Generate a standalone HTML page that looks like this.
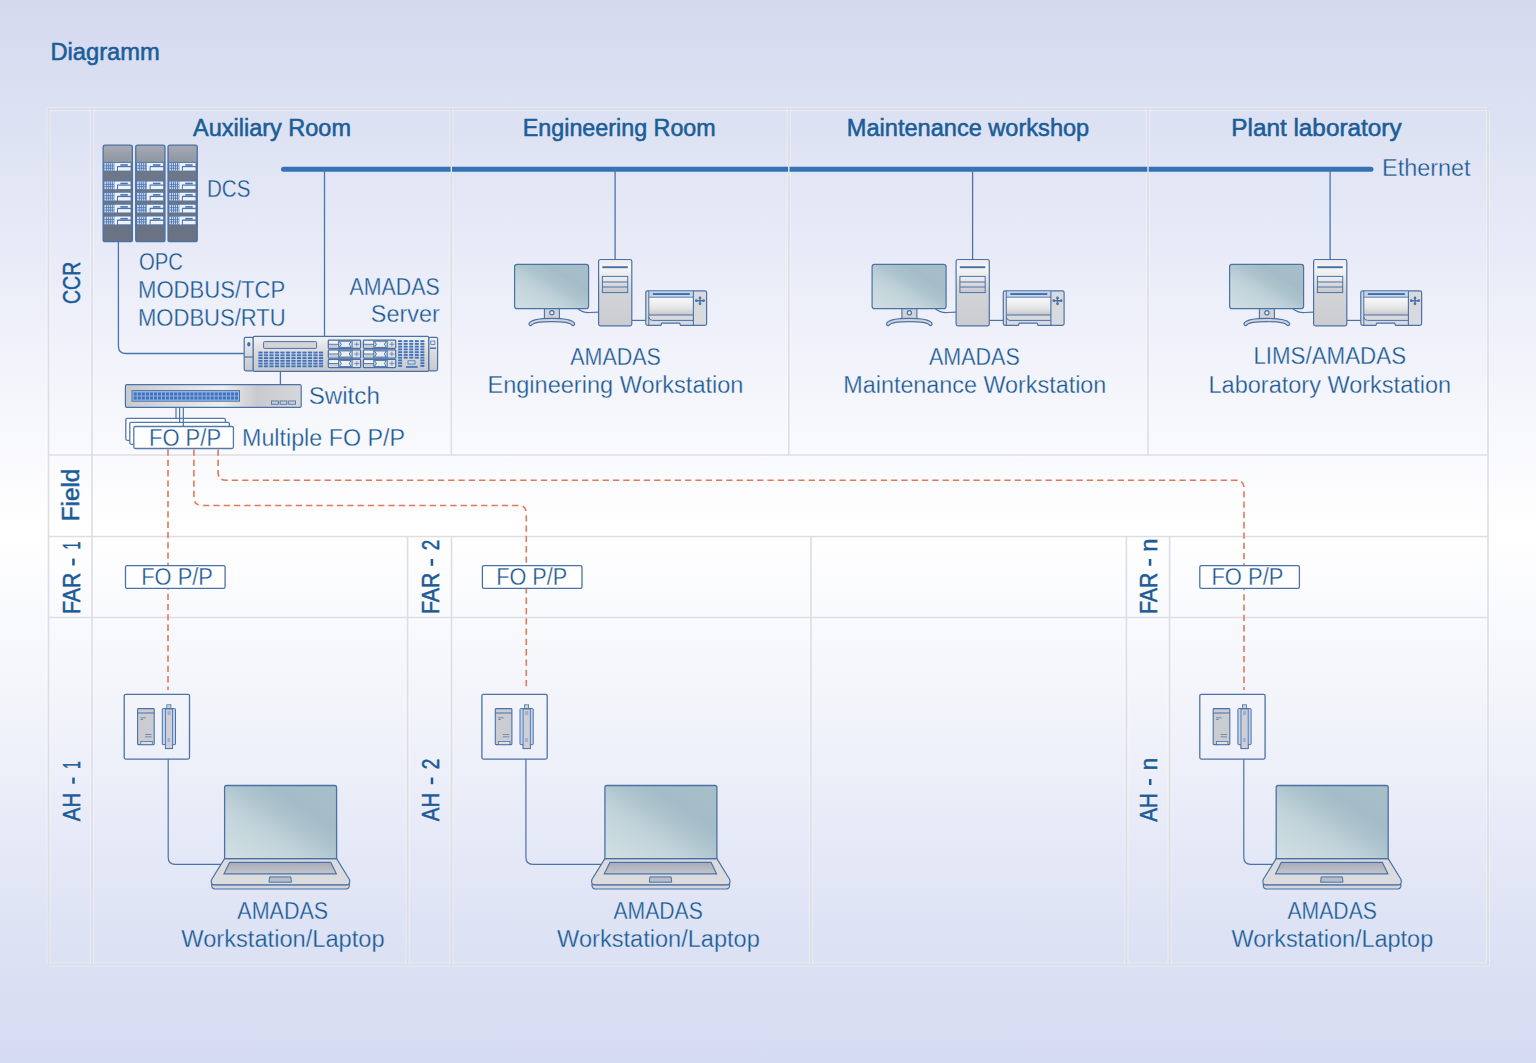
<!DOCTYPE html>
<html><head><meta charset="utf-8"><style>
html,body{margin:0;padding:0;width:1536px;height:1063px;overflow:hidden;}
body{background:linear-gradient(to bottom,#d4d9ef 0%,#dde2f3 12%,#f3f4fb 35%,#ffffff 50%,#f1f3fa 68%,#dde2f4 88%,#d5dbf1 100%);}
svg{position:absolute;left:0;top:0;}
text{font-family:"Liberation Sans",sans-serif;}
</style></head><body>
<svg width="1536" height="1063" viewBox="0 0 1536 1063">
<defs>
<linearGradient id="rackg" x1="0" y1="0" x2="0" y2="1"><stop offset="0" stop-color="#a6aab3"/><stop offset="0.17" stop-color="#8f96a2"/><stop offset="0.2" stop-color="#6e7888"/><stop offset="1" stop-color="#687283"/></linearGradient>
<linearGradient id="screeng" x1="0" y1="1" x2="1" y2="0"><stop offset="0" stop-color="#d0dfe4"/><stop offset="0.35" stop-color="#c2d4da"/><stop offset="0.55" stop-color="#adc4cd"/><stop offset="0.7" stop-color="#a3bcc7"/><stop offset="1" stop-color="#a6bfc9"/></linearGradient>
<linearGradient id="metalg" x1="0" y1="0" x2="0" y2="1"><stop offset="0" stop-color="#f2f2f3"/><stop offset="0.5" stop-color="#d9d9dc"/><stop offset="1" stop-color="#c7c8cc"/></linearGradient>
<linearGradient id="metalh" x1="0" y1="0" x2="1" y2="0"><stop offset="0" stop-color="#c9cacf"/><stop offset="0.55" stop-color="#eeeeef"/><stop offset="0.75" stop-color="#c9cacf"/><stop offset="1" stop-color="#d7d8db"/></linearGradient>
<linearGradient id="kbg" x1="0" y1="0" x2="0" y2="1"><stop offset="0" stop-color="#a7abb6"/><stop offset="1" stop-color="#c4c6cc"/></linearGradient>
</defs>
<g stroke="#ffffff" stroke-opacity="0.35" stroke-width="1.2" fill="none">
<rect x="50.0" y="110.5" width="1439.5" height="855.5" />
<line x1="48.5" y1="456.5" x2="1488" y2="456.5" />
<line x1="48.5" y1="538.0" x2="1488" y2="538.0" />
<line x1="48.5" y1="619.0" x2="1488" y2="619.0" />
<line x1="93.5" y1="109" x2="93.5" y2="455" />
<line x1="452.8" y1="109" x2="452.8" y2="455" />
<line x1="790.3" y1="109" x2="790.3" y2="455" />
<line x1="1149.5" y1="109" x2="1149.5" y2="455" />
<line x1="93.5" y1="455" x2="93.5" y2="536.5" />
<line x1="93.5" y1="536.5" x2="93.5" y2="964.5" />
<line x1="409.1" y1="536.5" x2="409.1" y2="964.5" />
<line x1="453.0" y1="536.5" x2="453.0" y2="964.5" />
<line x1="812.5" y1="536.5" x2="812.5" y2="964.5" />
<line x1="1127.9" y1="536.5" x2="1127.9" y2="964.5" />
<line x1="1171.1" y1="536.5" x2="1171.1" y2="964.5" />
<rect x="47.0" y="107.5" width="1439.5" height="855.5" />
<line x1="48.5" y1="453.5" x2="1488" y2="453.5" />
<line x1="48.5" y1="535.0" x2="1488" y2="535.0" />
<line x1="48.5" y1="616.0" x2="1488" y2="616.0" />
<line x1="90.5" y1="109" x2="90.5" y2="455" />
<line x1="449.8" y1="109" x2="449.8" y2="455" />
<line x1="787.3" y1="109" x2="787.3" y2="455" />
<line x1="1146.5" y1="109" x2="1146.5" y2="455" />
<line x1="90.5" y1="455" x2="90.5" y2="536.5" />
<line x1="90.5" y1="536.5" x2="90.5" y2="964.5" />
<line x1="406.1" y1="536.5" x2="406.1" y2="964.5" />
<line x1="450.0" y1="536.5" x2="450.0" y2="964.5" />
<line x1="809.5" y1="536.5" x2="809.5" y2="964.5" />
<line x1="1124.9" y1="536.5" x2="1124.9" y2="964.5" />
<line x1="1168.1" y1="536.5" x2="1168.1" y2="964.5" />
</g>
<g id="grid" stroke="#dcdee4" stroke-width="1.6" fill="none">
<rect x="48.5" y="109" width="1439.5" height="855.5" />
<line x1="48.5" y1="455" x2="1488" y2="455" />
<line x1="48.5" y1="536.5" x2="1488" y2="536.5" />
<line x1="48.5" y1="617.5" x2="1488" y2="617.5" />
<line x1="92" y1="109" x2="92" y2="455" />
<line x1="451.3" y1="109" x2="451.3" y2="455" />
<line x1="788.8" y1="109" x2="788.8" y2="455" />
<line x1="1148" y1="109" x2="1148" y2="455" />
<line x1="92" y1="455" x2="92" y2="536.5" />
<line x1="92" y1="536.5" x2="92" y2="964.5" />
<line x1="407.6" y1="536.5" x2="407.6" y2="964.5" />
<line x1="451.5" y1="536.5" x2="451.5" y2="964.5" />
<line x1="811" y1="536.5" x2="811" y2="964.5" />
<line x1="1126.4" y1="536.5" x2="1126.4" y2="964.5" />
<line x1="1169.6" y1="536.5" x2="1169.6" y2="964.5" />
</g>
<g fill="none" stroke="#3572b3" stroke-linecap="round">
<line x1="283.5" y1="169.2" x2="1371" y2="169.2" stroke-width="5" />
</g>
<g stroke="#e6e9f5" stroke-width="1.4">
<line x1="451.3" y1="166" x2="451.3" y2="172.5" />
<line x1="788.8" y1="166" x2="788.8" y2="172.5" />
<line x1="1148" y1="166" x2="1148" y2="172.5" />
</g>
<g fill="none" stroke="#4a74ab" stroke-width="1.3">
<line x1="324.5" y1="169" x2="324.5" y2="336.5" />
<line x1="615.1" y1="169" x2="615.1" y2="259.5" />
<line x1="972.6" y1="169" x2="972.6" y2="259.5" />
<line x1="1330.1" y1="169" x2="1330.1" y2="259.5" />
<path d="M118.4,242 V346 Q118.4,353.5 126,353.5 H244" />
<line x1="280.4" y1="371.5" x2="280.4" y2="384.5" />
</g>
<rect x="103.15" y="145.1" width="29.2" height="96.6" rx="2" fill="url(#rackg)" stroke="#4a70a6" stroke-width="1.3"/>
<rect x="103.80" y="162.30" width="27.6" height="9" fill="#4d74ad" />
<rect x="104.40" y="163.00" width="9.6" height="7.6" fill="#c5d7ef" />
<rect x="106.30" y="163.00" width="0.8" height="7.6" fill="#4d74ad"/>
<rect x="108.30" y="163.00" width="0.8" height="7.6" fill="#4d74ad"/>
<rect x="110.30" y="163.00" width="0.8" height="7.6" fill="#4d74ad"/>
<rect x="112.30" y="163.00" width="0.8" height="7.6" fill="#4d74ad"/>
<rect x="104.40" y="165.40" width="9.6" height="0.8" fill="#4d74ad"/>
<rect x="104.40" y="167.80" width="9.6" height="0.8" fill="#4d74ad"/>
<path d="M114.40,162.90 H130.60 V165.90 H117.00 V170.70 H114.40 Z" fill="#eef3fb"/>
<rect x="120.30" y="164.20" width="7.5" height="1.6" fill="#4d74ad"/>
<rect x="118.00" y="167.20" width="12.6" height="3.4" fill="#eef3fb"/>
<rect x="103.80" y="180.80" width="27.6" height="9" fill="#4d74ad" />
<rect x="104.40" y="181.50" width="9.6" height="7.6" fill="#c5d7ef" />
<rect x="106.30" y="181.50" width="0.8" height="7.6" fill="#4d74ad"/>
<rect x="108.30" y="181.50" width="0.8" height="7.6" fill="#4d74ad"/>
<rect x="110.30" y="181.50" width="0.8" height="7.6" fill="#4d74ad"/>
<rect x="112.30" y="181.50" width="0.8" height="7.6" fill="#4d74ad"/>
<rect x="104.40" y="183.90" width="9.6" height="0.8" fill="#4d74ad"/>
<rect x="104.40" y="186.30" width="9.6" height="0.8" fill="#4d74ad"/>
<path d="M114.40,181.40 H130.60 V184.40 H117.00 V189.20 H114.40 Z" fill="#eef3fb"/>
<rect x="120.30" y="182.70" width="7.5" height="1.6" fill="#4d74ad"/>
<rect x="118.00" y="185.70" width="12.6" height="3.4" fill="#eef3fb"/>
<rect x="103.80" y="192.20" width="27.6" height="9" fill="#4d74ad" />
<rect x="104.40" y="192.90" width="9.6" height="7.6" fill="#c5d7ef" />
<rect x="106.30" y="192.90" width="0.8" height="7.6" fill="#4d74ad"/>
<rect x="108.30" y="192.90" width="0.8" height="7.6" fill="#4d74ad"/>
<rect x="110.30" y="192.90" width="0.8" height="7.6" fill="#4d74ad"/>
<rect x="112.30" y="192.90" width="0.8" height="7.6" fill="#4d74ad"/>
<rect x="104.40" y="195.30" width="9.6" height="0.8" fill="#4d74ad"/>
<rect x="104.40" y="197.70" width="9.6" height="0.8" fill="#4d74ad"/>
<path d="M114.40,192.80 H130.60 V195.80 H117.00 V200.60 H114.40 Z" fill="#eef3fb"/>
<rect x="120.30" y="194.10" width="7.5" height="1.6" fill="#4d74ad"/>
<rect x="118.00" y="197.10" width="12.6" height="3.4" fill="#eef3fb"/>
<rect x="103.80" y="204.20" width="27.6" height="9" fill="#4d74ad" />
<rect x="104.40" y="204.90" width="9.6" height="7.6" fill="#c5d7ef" />
<rect x="106.30" y="204.90" width="0.8" height="7.6" fill="#4d74ad"/>
<rect x="108.30" y="204.90" width="0.8" height="7.6" fill="#4d74ad"/>
<rect x="110.30" y="204.90" width="0.8" height="7.6" fill="#4d74ad"/>
<rect x="112.30" y="204.90" width="0.8" height="7.6" fill="#4d74ad"/>
<rect x="104.40" y="207.30" width="9.6" height="0.8" fill="#4d74ad"/>
<rect x="104.40" y="209.70" width="9.6" height="0.8" fill="#4d74ad"/>
<path d="M114.40,204.80 H130.60 V207.80 H117.00 V212.60 H114.40 Z" fill="#eef3fb"/>
<rect x="120.30" y="206.10" width="7.5" height="1.6" fill="#4d74ad"/>
<rect x="118.00" y="209.10" width="12.6" height="3.4" fill="#eef3fb"/>
<rect x="103.80" y="216.00" width="27.6" height="9" fill="#4d74ad" />
<rect x="104.40" y="216.70" width="9.6" height="7.6" fill="#c5d7ef" />
<rect x="106.30" y="216.70" width="0.8" height="7.6" fill="#4d74ad"/>
<rect x="108.30" y="216.70" width="0.8" height="7.6" fill="#4d74ad"/>
<rect x="110.30" y="216.70" width="0.8" height="7.6" fill="#4d74ad"/>
<rect x="112.30" y="216.70" width="0.8" height="7.6" fill="#4d74ad"/>
<rect x="104.40" y="219.10" width="9.6" height="0.8" fill="#4d74ad"/>
<rect x="104.40" y="221.50" width="9.6" height="0.8" fill="#4d74ad"/>
<path d="M114.40,216.60 H130.60 V219.60 H117.00 V224.40 H114.40 Z" fill="#eef3fb"/>
<rect x="120.30" y="217.90" width="7.5" height="1.6" fill="#4d74ad"/>
<rect x="118.00" y="220.90" width="12.6" height="3.4" fill="#eef3fb"/>
<rect x="135.75" y="145.1" width="29.2" height="96.6" rx="2" fill="url(#rackg)" stroke="#4a70a6" stroke-width="1.3"/>
<rect x="136.40" y="162.30" width="27.6" height="9" fill="#4d74ad" />
<rect x="137.00" y="163.00" width="9.6" height="7.6" fill="#c5d7ef" />
<rect x="138.90" y="163.00" width="0.8" height="7.6" fill="#4d74ad"/>
<rect x="140.90" y="163.00" width="0.8" height="7.6" fill="#4d74ad"/>
<rect x="142.90" y="163.00" width="0.8" height="7.6" fill="#4d74ad"/>
<rect x="144.90" y="163.00" width="0.8" height="7.6" fill="#4d74ad"/>
<rect x="137.00" y="165.40" width="9.6" height="0.8" fill="#4d74ad"/>
<rect x="137.00" y="167.80" width="9.6" height="0.8" fill="#4d74ad"/>
<path d="M147.00,162.90 H163.20 V165.90 H149.60 V170.70 H147.00 Z" fill="#eef3fb"/>
<rect x="152.90" y="164.20" width="7.5" height="1.6" fill="#4d74ad"/>
<rect x="150.60" y="167.20" width="12.6" height="3.4" fill="#eef3fb"/>
<rect x="136.40" y="180.80" width="27.6" height="9" fill="#4d74ad" />
<rect x="137.00" y="181.50" width="9.6" height="7.6" fill="#c5d7ef" />
<rect x="138.90" y="181.50" width="0.8" height="7.6" fill="#4d74ad"/>
<rect x="140.90" y="181.50" width="0.8" height="7.6" fill="#4d74ad"/>
<rect x="142.90" y="181.50" width="0.8" height="7.6" fill="#4d74ad"/>
<rect x="144.90" y="181.50" width="0.8" height="7.6" fill="#4d74ad"/>
<rect x="137.00" y="183.90" width="9.6" height="0.8" fill="#4d74ad"/>
<rect x="137.00" y="186.30" width="9.6" height="0.8" fill="#4d74ad"/>
<path d="M147.00,181.40 H163.20 V184.40 H149.60 V189.20 H147.00 Z" fill="#eef3fb"/>
<rect x="152.90" y="182.70" width="7.5" height="1.6" fill="#4d74ad"/>
<rect x="150.60" y="185.70" width="12.6" height="3.4" fill="#eef3fb"/>
<rect x="136.40" y="192.20" width="27.6" height="9" fill="#4d74ad" />
<rect x="137.00" y="192.90" width="9.6" height="7.6" fill="#c5d7ef" />
<rect x="138.90" y="192.90" width="0.8" height="7.6" fill="#4d74ad"/>
<rect x="140.90" y="192.90" width="0.8" height="7.6" fill="#4d74ad"/>
<rect x="142.90" y="192.90" width="0.8" height="7.6" fill="#4d74ad"/>
<rect x="144.90" y="192.90" width="0.8" height="7.6" fill="#4d74ad"/>
<rect x="137.00" y="195.30" width="9.6" height="0.8" fill="#4d74ad"/>
<rect x="137.00" y="197.70" width="9.6" height="0.8" fill="#4d74ad"/>
<path d="M147.00,192.80 H163.20 V195.80 H149.60 V200.60 H147.00 Z" fill="#eef3fb"/>
<rect x="152.90" y="194.10" width="7.5" height="1.6" fill="#4d74ad"/>
<rect x="150.60" y="197.10" width="12.6" height="3.4" fill="#eef3fb"/>
<rect x="136.40" y="204.20" width="27.6" height="9" fill="#4d74ad" />
<rect x="137.00" y="204.90" width="9.6" height="7.6" fill="#c5d7ef" />
<rect x="138.90" y="204.90" width="0.8" height="7.6" fill="#4d74ad"/>
<rect x="140.90" y="204.90" width="0.8" height="7.6" fill="#4d74ad"/>
<rect x="142.90" y="204.90" width="0.8" height="7.6" fill="#4d74ad"/>
<rect x="144.90" y="204.90" width="0.8" height="7.6" fill="#4d74ad"/>
<rect x="137.00" y="207.30" width="9.6" height="0.8" fill="#4d74ad"/>
<rect x="137.00" y="209.70" width="9.6" height="0.8" fill="#4d74ad"/>
<path d="M147.00,204.80 H163.20 V207.80 H149.60 V212.60 H147.00 Z" fill="#eef3fb"/>
<rect x="152.90" y="206.10" width="7.5" height="1.6" fill="#4d74ad"/>
<rect x="150.60" y="209.10" width="12.6" height="3.4" fill="#eef3fb"/>
<rect x="136.40" y="216.00" width="27.6" height="9" fill="#4d74ad" />
<rect x="137.00" y="216.70" width="9.6" height="7.6" fill="#c5d7ef" />
<rect x="138.90" y="216.70" width="0.8" height="7.6" fill="#4d74ad"/>
<rect x="140.90" y="216.70" width="0.8" height="7.6" fill="#4d74ad"/>
<rect x="142.90" y="216.70" width="0.8" height="7.6" fill="#4d74ad"/>
<rect x="144.90" y="216.70" width="0.8" height="7.6" fill="#4d74ad"/>
<rect x="137.00" y="219.10" width="9.6" height="0.8" fill="#4d74ad"/>
<rect x="137.00" y="221.50" width="9.6" height="0.8" fill="#4d74ad"/>
<path d="M147.00,216.60 H163.20 V219.60 H149.60 V224.40 H147.00 Z" fill="#eef3fb"/>
<rect x="152.90" y="217.90" width="7.5" height="1.6" fill="#4d74ad"/>
<rect x="150.60" y="220.90" width="12.6" height="3.4" fill="#eef3fb"/>
<rect x="168.05" y="145.1" width="29.2" height="96.6" rx="2" fill="url(#rackg)" stroke="#4a70a6" stroke-width="1.3"/>
<rect x="168.70" y="162.30" width="27.6" height="9" fill="#4d74ad" />
<rect x="169.30" y="163.00" width="9.6" height="7.6" fill="#c5d7ef" />
<rect x="171.20" y="163.00" width="0.8" height="7.6" fill="#4d74ad"/>
<rect x="173.20" y="163.00" width="0.8" height="7.6" fill="#4d74ad"/>
<rect x="175.20" y="163.00" width="0.8" height="7.6" fill="#4d74ad"/>
<rect x="177.20" y="163.00" width="0.8" height="7.6" fill="#4d74ad"/>
<rect x="169.30" y="165.40" width="9.6" height="0.8" fill="#4d74ad"/>
<rect x="169.30" y="167.80" width="9.6" height="0.8" fill="#4d74ad"/>
<path d="M179.30,162.90 H195.50 V165.90 H181.90 V170.70 H179.30 Z" fill="#eef3fb"/>
<rect x="185.20" y="164.20" width="7.5" height="1.6" fill="#4d74ad"/>
<rect x="182.90" y="167.20" width="12.6" height="3.4" fill="#eef3fb"/>
<rect x="168.70" y="180.80" width="27.6" height="9" fill="#4d74ad" />
<rect x="169.30" y="181.50" width="9.6" height="7.6" fill="#c5d7ef" />
<rect x="171.20" y="181.50" width="0.8" height="7.6" fill="#4d74ad"/>
<rect x="173.20" y="181.50" width="0.8" height="7.6" fill="#4d74ad"/>
<rect x="175.20" y="181.50" width="0.8" height="7.6" fill="#4d74ad"/>
<rect x="177.20" y="181.50" width="0.8" height="7.6" fill="#4d74ad"/>
<rect x="169.30" y="183.90" width="9.6" height="0.8" fill="#4d74ad"/>
<rect x="169.30" y="186.30" width="9.6" height="0.8" fill="#4d74ad"/>
<path d="M179.30,181.40 H195.50 V184.40 H181.90 V189.20 H179.30 Z" fill="#eef3fb"/>
<rect x="185.20" y="182.70" width="7.5" height="1.6" fill="#4d74ad"/>
<rect x="182.90" y="185.70" width="12.6" height="3.4" fill="#eef3fb"/>
<rect x="168.70" y="192.20" width="27.6" height="9" fill="#4d74ad" />
<rect x="169.30" y="192.90" width="9.6" height="7.6" fill="#c5d7ef" />
<rect x="171.20" y="192.90" width="0.8" height="7.6" fill="#4d74ad"/>
<rect x="173.20" y="192.90" width="0.8" height="7.6" fill="#4d74ad"/>
<rect x="175.20" y="192.90" width="0.8" height="7.6" fill="#4d74ad"/>
<rect x="177.20" y="192.90" width="0.8" height="7.6" fill="#4d74ad"/>
<rect x="169.30" y="195.30" width="9.6" height="0.8" fill="#4d74ad"/>
<rect x="169.30" y="197.70" width="9.6" height="0.8" fill="#4d74ad"/>
<path d="M179.30,192.80 H195.50 V195.80 H181.90 V200.60 H179.30 Z" fill="#eef3fb"/>
<rect x="185.20" y="194.10" width="7.5" height="1.6" fill="#4d74ad"/>
<rect x="182.90" y="197.10" width="12.6" height="3.4" fill="#eef3fb"/>
<rect x="168.70" y="204.20" width="27.6" height="9" fill="#4d74ad" />
<rect x="169.30" y="204.90" width="9.6" height="7.6" fill="#c5d7ef" />
<rect x="171.20" y="204.90" width="0.8" height="7.6" fill="#4d74ad"/>
<rect x="173.20" y="204.90" width="0.8" height="7.6" fill="#4d74ad"/>
<rect x="175.20" y="204.90" width="0.8" height="7.6" fill="#4d74ad"/>
<rect x="177.20" y="204.90" width="0.8" height="7.6" fill="#4d74ad"/>
<rect x="169.30" y="207.30" width="9.6" height="0.8" fill="#4d74ad"/>
<rect x="169.30" y="209.70" width="9.6" height="0.8" fill="#4d74ad"/>
<path d="M179.30,204.80 H195.50 V207.80 H181.90 V212.60 H179.30 Z" fill="#eef3fb"/>
<rect x="185.20" y="206.10" width="7.5" height="1.6" fill="#4d74ad"/>
<rect x="182.90" y="209.10" width="12.6" height="3.4" fill="#eef3fb"/>
<rect x="168.70" y="216.00" width="27.6" height="9" fill="#4d74ad" />
<rect x="169.30" y="216.70" width="9.6" height="7.6" fill="#c5d7ef" />
<rect x="171.20" y="216.70" width="0.8" height="7.6" fill="#4d74ad"/>
<rect x="173.20" y="216.70" width="0.8" height="7.6" fill="#4d74ad"/>
<rect x="175.20" y="216.70" width="0.8" height="7.6" fill="#4d74ad"/>
<rect x="177.20" y="216.70" width="0.8" height="7.6" fill="#4d74ad"/>
<rect x="169.30" y="219.10" width="9.6" height="0.8" fill="#4d74ad"/>
<rect x="169.30" y="221.50" width="9.6" height="0.8" fill="#4d74ad"/>
<path d="M179.30,216.60 H195.50 V219.60 H181.90 V224.40 H179.30 Z" fill="#eef3fb"/>
<rect x="185.20" y="217.90" width="7.5" height="1.6" fill="#4d74ad"/>
<rect x="182.90" y="220.90" width="12.6" height="3.4" fill="#eef3fb"/>
<g stroke="#4a72a8" stroke-width="1.2">
<rect x="244.2" y="337.4" width="9.2" height="33.4" rx="1.5" fill="url(#metalg)"/>
<line x1="244.2" y1="357" x2="253.4" y2="357" />
<rect x="428.6" y="337.4" width="9" height="33.4" rx="1.5" fill="url(#metalg)"/>
<rect x="253.2" y="336.4" width="175.5" height="35" rx="1" fill="url(#metalg)"/>
</g>
<ellipse cx="248.8" cy="344.3" rx="1.6" ry="2.2" fill="#3f6fb0"/>
<rect x="430.8" y="341" width="4" height="3.5" fill="none" stroke="#4a72a8" stroke-width="0.8"/>
<rect x="430" y="347.5" width="6" height="1.5" fill="#4a72a8"/>
<rect x="263.6" y="341.6" width="53" height="6.8" rx="0.8" fill="#d3d4d8" stroke="#4a72a8" stroke-width="1"/>
<rect x="258.4" y="351.60" width="4.2" height="1.9" fill="#3f73bd"/>
<rect x="258.4" y="354.35" width="4.2" height="1.9" fill="#3f73bd"/>
<rect x="258.4" y="357.10" width="4.2" height="1.9" fill="#3f73bd"/>
<rect x="258.4" y="359.85" width="4.2" height="1.9" fill="#3f73bd"/>
<rect x="258.4" y="362.60" width="4.2" height="1.9" fill="#3f73bd"/>
<rect x="258.4" y="365.35" width="4.2" height="1.9" fill="#3f73bd"/>
<rect x="263.9" y="351.60" width="4.2" height="1.9" fill="#3f73bd"/>
<rect x="263.9" y="354.35" width="4.2" height="1.9" fill="#3f73bd"/>
<rect x="263.9" y="357.10" width="4.2" height="1.9" fill="#3f73bd"/>
<rect x="263.9" y="359.85" width="4.2" height="1.9" fill="#3f73bd"/>
<rect x="263.9" y="362.60" width="4.2" height="1.9" fill="#3f73bd"/>
<rect x="263.9" y="365.35" width="4.2" height="1.9" fill="#3f73bd"/>
<rect x="269.4" y="351.60" width="4.2" height="1.9" fill="#3f73bd"/>
<rect x="269.4" y="354.35" width="4.2" height="1.9" fill="#3f73bd"/>
<rect x="269.4" y="357.10" width="4.2" height="1.9" fill="#3f73bd"/>
<rect x="269.4" y="359.85" width="4.2" height="1.9" fill="#3f73bd"/>
<rect x="269.4" y="362.60" width="4.2" height="1.9" fill="#3f73bd"/>
<rect x="269.4" y="365.35" width="4.2" height="1.9" fill="#3f73bd"/>
<rect x="274.9" y="351.60" width="4.2" height="1.9" fill="#3f73bd"/>
<rect x="274.9" y="354.35" width="4.2" height="1.9" fill="#3f73bd"/>
<rect x="274.9" y="357.10" width="4.2" height="1.9" fill="#3f73bd"/>
<rect x="274.9" y="359.85" width="4.2" height="1.9" fill="#3f73bd"/>
<rect x="274.9" y="362.60" width="4.2" height="1.9" fill="#3f73bd"/>
<rect x="274.9" y="365.35" width="4.2" height="1.9" fill="#3f73bd"/>
<rect x="280.4" y="351.60" width="4.2" height="1.9" fill="#3f73bd"/>
<rect x="280.4" y="354.35" width="4.2" height="1.9" fill="#3f73bd"/>
<rect x="280.4" y="357.10" width="4.2" height="1.9" fill="#3f73bd"/>
<rect x="280.4" y="359.85" width="4.2" height="1.9" fill="#3f73bd"/>
<rect x="280.4" y="362.60" width="4.2" height="1.9" fill="#3f73bd"/>
<rect x="280.4" y="365.35" width="4.2" height="1.9" fill="#3f73bd"/>
<rect x="285.9" y="351.60" width="4.2" height="1.9" fill="#3f73bd"/>
<rect x="285.9" y="354.35" width="4.2" height="1.9" fill="#3f73bd"/>
<rect x="285.9" y="357.10" width="4.2" height="1.9" fill="#3f73bd"/>
<rect x="285.9" y="359.85" width="4.2" height="1.9" fill="#3f73bd"/>
<rect x="285.9" y="362.60" width="4.2" height="1.9" fill="#3f73bd"/>
<rect x="285.9" y="365.35" width="4.2" height="1.9" fill="#3f73bd"/>
<rect x="291.4" y="351.60" width="4.2" height="1.9" fill="#3f73bd"/>
<rect x="291.4" y="354.35" width="4.2" height="1.9" fill="#3f73bd"/>
<rect x="291.4" y="357.10" width="4.2" height="1.9" fill="#3f73bd"/>
<rect x="291.4" y="359.85" width="4.2" height="1.9" fill="#3f73bd"/>
<rect x="291.4" y="362.60" width="4.2" height="1.9" fill="#3f73bd"/>
<rect x="291.4" y="365.35" width="4.2" height="1.9" fill="#3f73bd"/>
<rect x="296.9" y="351.60" width="4.2" height="1.9" fill="#3f73bd"/>
<rect x="296.9" y="354.35" width="4.2" height="1.9" fill="#3f73bd"/>
<rect x="296.9" y="357.10" width="4.2" height="1.9" fill="#3f73bd"/>
<rect x="296.9" y="359.85" width="4.2" height="1.9" fill="#3f73bd"/>
<rect x="296.9" y="362.60" width="4.2" height="1.9" fill="#3f73bd"/>
<rect x="296.9" y="365.35" width="4.2" height="1.9" fill="#3f73bd"/>
<rect x="302.4" y="351.60" width="4.2" height="1.9" fill="#3f73bd"/>
<rect x="302.4" y="354.35" width="4.2" height="1.9" fill="#3f73bd"/>
<rect x="302.4" y="357.10" width="4.2" height="1.9" fill="#3f73bd"/>
<rect x="302.4" y="359.85" width="4.2" height="1.9" fill="#3f73bd"/>
<rect x="302.4" y="362.60" width="4.2" height="1.9" fill="#3f73bd"/>
<rect x="302.4" y="365.35" width="4.2" height="1.9" fill="#3f73bd"/>
<rect x="307.9" y="351.60" width="4.2" height="1.9" fill="#3f73bd"/>
<rect x="307.9" y="354.35" width="4.2" height="1.9" fill="#3f73bd"/>
<rect x="307.9" y="357.10" width="4.2" height="1.9" fill="#3f73bd"/>
<rect x="307.9" y="359.85" width="4.2" height="1.9" fill="#3f73bd"/>
<rect x="307.9" y="362.60" width="4.2" height="1.9" fill="#3f73bd"/>
<rect x="307.9" y="365.35" width="4.2" height="1.9" fill="#3f73bd"/>
<rect x="313.4" y="351.60" width="4.2" height="1.9" fill="#3f73bd"/>
<rect x="313.4" y="354.35" width="4.2" height="1.9" fill="#3f73bd"/>
<rect x="313.4" y="357.10" width="4.2" height="1.9" fill="#3f73bd"/>
<rect x="313.4" y="359.85" width="4.2" height="1.9" fill="#3f73bd"/>
<rect x="313.4" y="362.60" width="4.2" height="1.9" fill="#3f73bd"/>
<rect x="313.4" y="365.35" width="4.2" height="1.9" fill="#3f73bd"/>
<rect x="318.9" y="351.60" width="4.2" height="1.9" fill="#3f73bd"/>
<rect x="318.9" y="354.35" width="4.2" height="1.9" fill="#3f73bd"/>
<rect x="318.9" y="357.10" width="4.2" height="1.9" fill="#3f73bd"/>
<rect x="318.9" y="359.85" width="4.2" height="1.9" fill="#3f73bd"/>
<rect x="318.9" y="362.60" width="4.2" height="1.9" fill="#3f73bd"/>
<rect x="318.9" y="365.35" width="4.2" height="1.9" fill="#3f73bd"/>
<rect x="328.3" y="340.2" width="32.3" height="8.2" rx="0.8" fill="#dfe0e4" stroke="#4a72a8" stroke-width="1.25"/>
<rect x="329.5" y="341.4" width="8.4" height="2.4" fill="#f4f5f8"/>
<rect x="329.5" y="344.8" width="8.4" height="2.4" fill="#c9cbd1"/>
<line x1="328.3" y1="344.3" x2="338.7" y2="344.3" stroke="#4a72a8" stroke-width="0.9"/>
<line x1="338.7" y1="340.2" x2="338.7" y2="348.4" stroke="#4a72a8" stroke-width="1"/>
<path d="M339.3,341.2 L341.3,344.3 L339.3,347.4 H351.3 L349.3,344.3 L351.3,341.2 Z" fill="#eceef2" stroke="#4a72a8" stroke-width="1"/>
<line x1="352.1" y1="340.2" x2="352.1" y2="348.4" stroke="#4a72a8" stroke-width="1"/>
<path d="M354.3,344.3 h5 M356.8,342.0 v4.6" stroke="#4a72a8" stroke-width="0.7"/>
<rect x="328.3" y="349.9" width="32.3" height="8.2" rx="0.8" fill="#dfe0e4" stroke="#4a72a8" stroke-width="1.25"/>
<rect x="329.5" y="351.1" width="8.4" height="2.4" fill="#f4f5f8"/>
<rect x="329.5" y="354.5" width="8.4" height="2.4" fill="#c9cbd1"/>
<line x1="328.3" y1="354.0" x2="338.7" y2="354.0" stroke="#4a72a8" stroke-width="0.9"/>
<line x1="338.7" y1="349.9" x2="338.7" y2="358.1" stroke="#4a72a8" stroke-width="1"/>
<path d="M339.3,350.9 L341.3,354.0 L339.3,357.1 H351.3 L349.3,354.0 L351.3,350.9 Z" fill="#eceef2" stroke="#4a72a8" stroke-width="1"/>
<line x1="352.1" y1="349.9" x2="352.1" y2="358.1" stroke="#4a72a8" stroke-width="1"/>
<path d="M354.3,354.0 h5 M356.8,351.7 v4.6" stroke="#4a72a8" stroke-width="0.7"/>
<rect x="328.3" y="359.4" width="32.3" height="8.2" rx="0.8" fill="#dfe0e4" stroke="#4a72a8" stroke-width="1.25"/>
<rect x="329.5" y="360.6" width="8.4" height="2.4" fill="#f4f5f8"/>
<rect x="329.5" y="364.0" width="8.4" height="2.4" fill="#c9cbd1"/>
<line x1="328.3" y1="363.5" x2="338.7" y2="363.5" stroke="#4a72a8" stroke-width="0.9"/>
<line x1="338.7" y1="359.4" x2="338.7" y2="367.6" stroke="#4a72a8" stroke-width="1"/>
<path d="M339.3,360.4 L341.3,363.5 L339.3,366.6 H351.3 L349.3,363.5 L351.3,360.4 Z" fill="#eceef2" stroke="#4a72a8" stroke-width="1"/>
<line x1="352.1" y1="359.4" x2="352.1" y2="367.6" stroke="#4a72a8" stroke-width="1"/>
<path d="M354.3,363.5 h5 M356.8,361.2 v4.6" stroke="#4a72a8" stroke-width="0.7"/>
<rect x="363.4" y="340.2" width="32.3" height="8.2" rx="0.8" fill="#dfe0e4" stroke="#4a72a8" stroke-width="1.25"/>
<rect x="364.6" y="341.4" width="8.4" height="2.4" fill="#f4f5f8"/>
<rect x="364.6" y="344.8" width="8.4" height="2.4" fill="#c9cbd1"/>
<line x1="363.4" y1="344.3" x2="373.8" y2="344.3" stroke="#4a72a8" stroke-width="0.9"/>
<line x1="373.8" y1="340.2" x2="373.8" y2="348.4" stroke="#4a72a8" stroke-width="1"/>
<path d="M374.4,341.2 L376.4,344.3 L374.4,347.4 H386.4 L384.4,344.3 L386.4,341.2 Z" fill="#eceef2" stroke="#4a72a8" stroke-width="1"/>
<line x1="387.2" y1="340.2" x2="387.2" y2="348.4" stroke="#4a72a8" stroke-width="1"/>
<path d="M389.4,344.3 h5 M391.9,342.0 v4.6" stroke="#4a72a8" stroke-width="0.7"/>
<rect x="363.4" y="349.9" width="32.3" height="8.2" rx="0.8" fill="#dfe0e4" stroke="#4a72a8" stroke-width="1.25"/>
<rect x="364.6" y="351.1" width="8.4" height="2.4" fill="#f4f5f8"/>
<rect x="364.6" y="354.5" width="8.4" height="2.4" fill="#c9cbd1"/>
<line x1="363.4" y1="354.0" x2="373.8" y2="354.0" stroke="#4a72a8" stroke-width="0.9"/>
<line x1="373.8" y1="349.9" x2="373.8" y2="358.1" stroke="#4a72a8" stroke-width="1"/>
<path d="M374.4,350.9 L376.4,354.0 L374.4,357.1 H386.4 L384.4,354.0 L386.4,350.9 Z" fill="#eceef2" stroke="#4a72a8" stroke-width="1"/>
<line x1="387.2" y1="349.9" x2="387.2" y2="358.1" stroke="#4a72a8" stroke-width="1"/>
<path d="M389.4,354.0 h5 M391.9,351.7 v4.6" stroke="#4a72a8" stroke-width="0.7"/>
<rect x="363.4" y="359.4" width="32.3" height="8.2" rx="0.8" fill="#dfe0e4" stroke="#4a72a8" stroke-width="1.25"/>
<rect x="364.6" y="360.6" width="8.4" height="2.4" fill="#f4f5f8"/>
<rect x="364.6" y="364.0" width="8.4" height="2.4" fill="#c9cbd1"/>
<line x1="363.4" y1="363.5" x2="373.8" y2="363.5" stroke="#4a72a8" stroke-width="0.9"/>
<line x1="373.8" y1="359.4" x2="373.8" y2="367.6" stroke="#4a72a8" stroke-width="1"/>
<path d="M374.4,360.4 L376.4,363.5 L374.4,366.6 H386.4 L384.4,363.5 L386.4,360.4 Z" fill="#eceef2" stroke="#4a72a8" stroke-width="1"/>
<line x1="387.2" y1="359.4" x2="387.2" y2="367.6" stroke="#4a72a8" stroke-width="1"/>
<path d="M389.4,363.5 h5 M391.9,361.2 v4.6" stroke="#4a72a8" stroke-width="0.7"/>
<rect x="398.10" y="340.20" width="4" height="1.9" fill="#3f73bd"/>
<rect x="398.10" y="342.95" width="4" height="1.9" fill="#3f73bd"/>
<rect x="398.10" y="345.70" width="4" height="1.9" fill="#3f73bd"/>
<rect x="398.10" y="348.45" width="4" height="1.9" fill="#3f73bd"/>
<rect x="398.10" y="351.20" width="4" height="1.9" fill="#3f73bd"/>
<rect x="398.10" y="353.95" width="4" height="1.9" fill="#3f73bd"/>
<rect x="398.10" y="356.70" width="4" height="1.9" fill="#3f73bd"/>
<rect x="398.10" y="359.45" width="4" height="1.9" fill="#3f73bd"/>
<rect x="398.10" y="362.20" width="4" height="1.9" fill="#3f73bd"/>
<rect x="398.10" y="364.95" width="4" height="1.9" fill="#3f73bd"/>
<rect x="403.67" y="340.20" width="4" height="1.9" fill="#3f73bd"/>
<rect x="403.67" y="342.95" width="4" height="1.9" fill="#3f73bd"/>
<rect x="403.67" y="345.70" width="4" height="1.9" fill="#3f73bd"/>
<rect x="403.67" y="348.45" width="4" height="1.9" fill="#3f73bd"/>
<rect x="403.67" y="351.20" width="4" height="1.9" fill="#3f73bd"/>
<rect x="403.67" y="353.95" width="4" height="1.9" fill="#3f73bd"/>
<rect x="403.67" y="356.70" width="4" height="1.9" fill="#3f73bd"/>
<rect x="409.24" y="340.20" width="4" height="1.9" fill="#3f73bd"/>
<rect x="409.24" y="342.95" width="4" height="1.9" fill="#3f73bd"/>
<rect x="409.24" y="345.70" width="4" height="1.9" fill="#3f73bd"/>
<rect x="409.24" y="348.45" width="4" height="1.9" fill="#3f73bd"/>
<rect x="409.24" y="351.20" width="4" height="1.9" fill="#3f73bd"/>
<rect x="409.24" y="353.95" width="4" height="1.9" fill="#3f73bd"/>
<rect x="409.24" y="356.70" width="4" height="1.9" fill="#3f73bd"/>
<rect x="414.81" y="340.20" width="4" height="1.9" fill="#3f73bd"/>
<rect x="414.81" y="342.95" width="4" height="1.9" fill="#3f73bd"/>
<rect x="414.81" y="345.70" width="4" height="1.9" fill="#3f73bd"/>
<rect x="414.81" y="348.45" width="4" height="1.9" fill="#3f73bd"/>
<rect x="414.81" y="351.20" width="4" height="1.9" fill="#3f73bd"/>
<rect x="414.81" y="353.95" width="4" height="1.9" fill="#3f73bd"/>
<rect x="414.81" y="356.70" width="4" height="1.9" fill="#3f73bd"/>
<rect x="420.38" y="340.20" width="4" height="1.9" fill="#3f73bd"/>
<rect x="420.38" y="342.95" width="4" height="1.9" fill="#3f73bd"/>
<rect x="420.38" y="345.70" width="4" height="1.9" fill="#3f73bd"/>
<rect x="420.38" y="348.45" width="4" height="1.9" fill="#3f73bd"/>
<rect x="420.38" y="351.20" width="4" height="1.9" fill="#3f73bd"/>
<rect x="420.38" y="353.95" width="4" height="1.9" fill="#3f73bd"/>
<rect x="420.38" y="356.70" width="4" height="1.9" fill="#3f73bd"/>
<rect x="420.38" y="359.45" width="4" height="1.9" fill="#3f73bd"/>
<rect x="420.38" y="362.20" width="4" height="1.9" fill="#3f73bd"/>
<rect x="420.38" y="364.95" width="4" height="1.9" fill="#3f73bd"/>
<rect x="408" y="360.8" width="7" height="3.2" fill="#d9dbe0" stroke="#3f73bd" stroke-width="0.8"/>
<rect x="406" y="366.1" width="11.7" height="1.7" fill="#3f73bd"/>
<rect x="125.4" y="384.6" width="175.8" height="22.8" rx="1.6" fill="url(#metalh)" stroke="#4a72a8" stroke-width="1.2"/>
<rect x="132" y="390.6" width="107.5" height="10.6" fill="#9fbbe6" stroke="#4a72a8" stroke-width="1"/>
<rect x="133.60" y="392.4" width="3.2" height="3.2" fill="#3f73bd"/>
<rect x="133.60" y="396.4" width="3.2" height="3.2" fill="#3f73bd"/>
<rect x="137.65" y="392.4" width="3.2" height="3.2" fill="#3f73bd"/>
<rect x="137.65" y="396.4" width="3.2" height="3.2" fill="#3f73bd"/>
<rect x="141.70" y="392.4" width="3.2" height="3.2" fill="#3f73bd"/>
<rect x="141.70" y="396.4" width="3.2" height="3.2" fill="#3f73bd"/>
<rect x="145.75" y="392.4" width="3.2" height="3.2" fill="#3f73bd"/>
<rect x="145.75" y="396.4" width="3.2" height="3.2" fill="#3f73bd"/>
<rect x="149.80" y="392.4" width="3.2" height="3.2" fill="#3f73bd"/>
<rect x="149.80" y="396.4" width="3.2" height="3.2" fill="#3f73bd"/>
<rect x="153.85" y="392.4" width="3.2" height="3.2" fill="#3f73bd"/>
<rect x="153.85" y="396.4" width="3.2" height="3.2" fill="#3f73bd"/>
<rect x="157.90" y="392.4" width="3.2" height="3.2" fill="#3f73bd"/>
<rect x="157.90" y="396.4" width="3.2" height="3.2" fill="#3f73bd"/>
<rect x="161.95" y="392.4" width="3.2" height="3.2" fill="#3f73bd"/>
<rect x="161.95" y="396.4" width="3.2" height="3.2" fill="#3f73bd"/>
<rect x="166.00" y="392.4" width="3.2" height="3.2" fill="#3f73bd"/>
<rect x="166.00" y="396.4" width="3.2" height="3.2" fill="#3f73bd"/>
<rect x="170.05" y="392.4" width="3.2" height="3.2" fill="#3f73bd"/>
<rect x="170.05" y="396.4" width="3.2" height="3.2" fill="#3f73bd"/>
<rect x="174.10" y="392.4" width="3.2" height="3.2" fill="#3f73bd"/>
<rect x="174.10" y="396.4" width="3.2" height="3.2" fill="#3f73bd"/>
<rect x="178.15" y="392.4" width="3.2" height="3.2" fill="#3f73bd"/>
<rect x="178.15" y="396.4" width="3.2" height="3.2" fill="#3f73bd"/>
<rect x="182.20" y="392.4" width="3.2" height="3.2" fill="#3f73bd"/>
<rect x="182.20" y="396.4" width="3.2" height="3.2" fill="#3f73bd"/>
<rect x="186.25" y="392.4" width="3.2" height="3.2" fill="#3f73bd"/>
<rect x="186.25" y="396.4" width="3.2" height="3.2" fill="#3f73bd"/>
<rect x="190.30" y="392.4" width="3.2" height="3.2" fill="#3f73bd"/>
<rect x="190.30" y="396.4" width="3.2" height="3.2" fill="#3f73bd"/>
<rect x="194.35" y="392.4" width="3.2" height="3.2" fill="#3f73bd"/>
<rect x="194.35" y="396.4" width="3.2" height="3.2" fill="#3f73bd"/>
<rect x="198.40" y="392.4" width="3.2" height="3.2" fill="#3f73bd"/>
<rect x="198.40" y="396.4" width="3.2" height="3.2" fill="#3f73bd"/>
<rect x="202.45" y="392.4" width="3.2" height="3.2" fill="#3f73bd"/>
<rect x="202.45" y="396.4" width="3.2" height="3.2" fill="#3f73bd"/>
<rect x="206.50" y="392.4" width="3.2" height="3.2" fill="#3f73bd"/>
<rect x="206.50" y="396.4" width="3.2" height="3.2" fill="#3f73bd"/>
<rect x="210.55" y="392.4" width="3.2" height="3.2" fill="#3f73bd"/>
<rect x="210.55" y="396.4" width="3.2" height="3.2" fill="#3f73bd"/>
<rect x="214.60" y="392.4" width="3.2" height="3.2" fill="#3f73bd"/>
<rect x="214.60" y="396.4" width="3.2" height="3.2" fill="#3f73bd"/>
<rect x="218.65" y="392.4" width="3.2" height="3.2" fill="#3f73bd"/>
<rect x="218.65" y="396.4" width="3.2" height="3.2" fill="#3f73bd"/>
<rect x="222.70" y="392.4" width="3.2" height="3.2" fill="#3f73bd"/>
<rect x="222.70" y="396.4" width="3.2" height="3.2" fill="#3f73bd"/>
<rect x="226.75" y="392.4" width="3.2" height="3.2" fill="#3f73bd"/>
<rect x="226.75" y="396.4" width="3.2" height="3.2" fill="#3f73bd"/>
<rect x="230.80" y="392.4" width="3.2" height="3.2" fill="#3f73bd"/>
<rect x="230.80" y="396.4" width="3.2" height="3.2" fill="#3f73bd"/>
<rect x="234.85" y="392.4" width="3.2" height="3.2" fill="#3f73bd"/>
<rect x="234.85" y="396.4" width="3.2" height="3.2" fill="#3f73bd"/>
<rect x="271.5" y="401" width="6.8" height="3.2" fill="none" stroke="#4a72a8" stroke-width="0.9"/>
<rect x="280.1" y="401" width="6.8" height="3.2" fill="none" stroke="#4a72a8" stroke-width="0.9"/>
<rect x="288.7" y="401" width="6.8" height="3.2" fill="none" stroke="#4a72a8" stroke-width="0.9"/>
<g fill="#ffffff" stroke="#5679aa" stroke-width="1.3">
<rect x="125.8" y="418.3" width="99.6" height="22" rx="1.5"/>
<rect x="129.8" y="422.3" width="99.6" height="22" rx="1.5"/>
</g>
<g fill="none" stroke="#4a74ab" stroke-width="1.2">
<line x1="176" y1="407.5" x2="176" y2="418.5"/><line x1="179.6" y1="407.5" x2="179.6" y2="422.5"/><line x1="183.3" y1="407.5" x2="183.3" y2="426.5"/>
</g>
<rect x="133.8" y="426.5" width="99.6" height="22" rx="1.5" fill="#ffffff" stroke="#5679aa" stroke-width="1.3"/>
<defs>
<linearGradient id="towerg" x1="0" y1="0" x2="0" y2="1"><stop offset="0" stop-color="#e9e9ec"/><stop offset="0.12" stop-color="#f6f6f7"/><stop offset="0.5" stop-color="#d3d4d8"/><stop offset="1" stop-color="#cbccd0"/></linearGradient>
<linearGradient id="papg" x1="0" y1="0" x2="0" y2="1"><stop offset="0" stop-color="#fafafa"/><stop offset="0.6" stop-color="#e6e6e8"/><stop offset="1" stop-color="#c6c7cb"/></linearGradient>
</defs>
<g transform="translate(0,0)">
<path d="M577.5,308.5 Q583,313 590,312.5 L598.5,312.2" fill="none" stroke="#4a72a8" stroke-width="1.2"/>
<path d="M632,320.4 H646" fill="none" stroke="#4a72a8" stroke-width="1.2"/>
<rect x="544.4" y="308.5" width="15" height="10.8" fill="#d2d3d8" stroke="#4a72a8" stroke-width="1.1"/>
<circle cx="551.9" cy="312.8" r="2.1" fill="#e9eaee" stroke="#4a72a8" stroke-width="1.2"/>
<path d="M530.6,323.9 Q533.5,320 551.8,320 Q570.1,320 573,323.9" fill="none" stroke="#4a72a8" stroke-width="4.4" stroke-linecap="round"/>
<path d="M530.6,323.9 Q533.5,320 551.8,320 Q570.1,320 573,323.9" fill="none" stroke="#d4d5da" stroke-width="2.1" stroke-linecap="round"/>
<rect x="514.6" y="264.4" width="74" height="44.3" rx="2.5" fill="url(#screeng)" stroke="#4a72a8" stroke-width="1.2"/>
<rect x="598.6" y="259.5" width="33.2" height="66.3" rx="1.8" fill="url(#towerg)" stroke="#4a72a8" stroke-width="1.2"/>
<rect x="602.3" y="266.2" width="25.5" height="2" fill="#4a72a8"/>
<rect x="602.4" y="276.4" width="25.3" height="16.2" fill="url(#metalg)" stroke="#4a72a8" stroke-width="1"/>
<line x1="602.4" y1="282" x2="627.7" y2="282" stroke="#4a72a8" stroke-width="1"/>
<line x1="602.4" y1="287" x2="627.7" y2="287" stroke="#4a72a8" stroke-width="1"/>
<path d="M647.6,290.8 H704.8 Q706.6,290.8 706.6,292.6 V323.6 Q706.6,325.4 704.8,325.4 H680.6 L679.6,323.2 H661.8 L660.8,325.4 H647.6 Q645.8,325.4 645.8,323.6 V292.6 Q645.8,290.8 647.6,290.8 Z" fill="#d9dadd" stroke="#4a72a8" stroke-width="1.2"/>
<rect x="649" y="291.6" width="44.4" height="5.2" fill="#c2d6f0"/>
<rect x="649" y="297" width="44.4" height="18" fill="url(#papg)"/>
<line x1="648.8" y1="291" x2="648.8" y2="325.3" stroke="#4a72a8" stroke-width="1"/>
<line x1="693.4" y1="291" x2="693.4" y2="325.3" stroke="#4a72a8" stroke-width="1.1"/>
<line x1="652.8" y1="294" x2="689.8" y2="294" stroke="#4a72a8" stroke-width="1.8"/>
<line x1="648.8" y1="297.2" x2="693.4" y2="297.2" stroke="#4a72a8" stroke-width="0.9"/>
<line x1="648.8" y1="315" x2="693.4" y2="315" stroke="#4a72a8" stroke-width="1.2"/>
<path d="M648.8,317.2 Q649.5,320.4 652.5,320.4 H693.4" stroke="#4a72a8" stroke-width="1" fill="none"/>
<path d="M696,300.7 H704 M700,297.6 V304" stroke="#4a72a8" stroke-width="1.4" fill="none"/>
<circle cx="696.3" cy="300.7" r="1.35" fill="#4a72a8"/>
<circle cx="703.7" cy="300.7" r="1.35" fill="#4a72a8"/>
<circle cx="700" cy="297.9" r="1.35" fill="#4a72a8"/>
<circle cx="700" cy="303.8" r="1.35" fill="#4a72a8"/>
</g>
<g transform="translate(357.5,0)">
<path d="M577.5,308.5 Q583,313 590,312.5 L598.5,312.2" fill="none" stroke="#4a72a8" stroke-width="1.2"/>
<path d="M632,320.4 H646" fill="none" stroke="#4a72a8" stroke-width="1.2"/>
<rect x="544.4" y="308.5" width="15" height="10.8" fill="#d2d3d8" stroke="#4a72a8" stroke-width="1.1"/>
<circle cx="551.9" cy="312.8" r="2.1" fill="#e9eaee" stroke="#4a72a8" stroke-width="1.2"/>
<path d="M530.6,323.9 Q533.5,320 551.8,320 Q570.1,320 573,323.9" fill="none" stroke="#4a72a8" stroke-width="4.4" stroke-linecap="round"/>
<path d="M530.6,323.9 Q533.5,320 551.8,320 Q570.1,320 573,323.9" fill="none" stroke="#d4d5da" stroke-width="2.1" stroke-linecap="round"/>
<rect x="514.6" y="264.4" width="74" height="44.3" rx="2.5" fill="url(#screeng)" stroke="#4a72a8" stroke-width="1.2"/>
<rect x="598.6" y="259.5" width="33.2" height="66.3" rx="1.8" fill="url(#towerg)" stroke="#4a72a8" stroke-width="1.2"/>
<rect x="602.3" y="266.2" width="25.5" height="2" fill="#4a72a8"/>
<rect x="602.4" y="276.4" width="25.3" height="16.2" fill="url(#metalg)" stroke="#4a72a8" stroke-width="1"/>
<line x1="602.4" y1="282" x2="627.7" y2="282" stroke="#4a72a8" stroke-width="1"/>
<line x1="602.4" y1="287" x2="627.7" y2="287" stroke="#4a72a8" stroke-width="1"/>
<path d="M647.6,290.8 H704.8 Q706.6,290.8 706.6,292.6 V323.6 Q706.6,325.4 704.8,325.4 H680.6 L679.6,323.2 H661.8 L660.8,325.4 H647.6 Q645.8,325.4 645.8,323.6 V292.6 Q645.8,290.8 647.6,290.8 Z" fill="#d9dadd" stroke="#4a72a8" stroke-width="1.2"/>
<rect x="649" y="291.6" width="44.4" height="5.2" fill="#c2d6f0"/>
<rect x="649" y="297" width="44.4" height="18" fill="url(#papg)"/>
<line x1="648.8" y1="291" x2="648.8" y2="325.3" stroke="#4a72a8" stroke-width="1"/>
<line x1="693.4" y1="291" x2="693.4" y2="325.3" stroke="#4a72a8" stroke-width="1.1"/>
<line x1="652.8" y1="294" x2="689.8" y2="294" stroke="#4a72a8" stroke-width="1.8"/>
<line x1="648.8" y1="297.2" x2="693.4" y2="297.2" stroke="#4a72a8" stroke-width="0.9"/>
<line x1="648.8" y1="315" x2="693.4" y2="315" stroke="#4a72a8" stroke-width="1.2"/>
<path d="M648.8,317.2 Q649.5,320.4 652.5,320.4 H693.4" stroke="#4a72a8" stroke-width="1" fill="none"/>
<path d="M696,300.7 H704 M700,297.6 V304" stroke="#4a72a8" stroke-width="1.4" fill="none"/>
<circle cx="696.3" cy="300.7" r="1.35" fill="#4a72a8"/>
<circle cx="703.7" cy="300.7" r="1.35" fill="#4a72a8"/>
<circle cx="700" cy="297.9" r="1.35" fill="#4a72a8"/>
<circle cx="700" cy="303.8" r="1.35" fill="#4a72a8"/>
</g>
<g transform="translate(715,0)">
<path d="M577.5,308.5 Q583,313 590,312.5 L598.5,312.2" fill="none" stroke="#4a72a8" stroke-width="1.2"/>
<path d="M632,320.4 H646" fill="none" stroke="#4a72a8" stroke-width="1.2"/>
<rect x="544.4" y="308.5" width="15" height="10.8" fill="#d2d3d8" stroke="#4a72a8" stroke-width="1.1"/>
<circle cx="551.9" cy="312.8" r="2.1" fill="#e9eaee" stroke="#4a72a8" stroke-width="1.2"/>
<path d="M530.6,323.9 Q533.5,320 551.8,320 Q570.1,320 573,323.9" fill="none" stroke="#4a72a8" stroke-width="4.4" stroke-linecap="round"/>
<path d="M530.6,323.9 Q533.5,320 551.8,320 Q570.1,320 573,323.9" fill="none" stroke="#d4d5da" stroke-width="2.1" stroke-linecap="round"/>
<rect x="514.6" y="264.4" width="74" height="44.3" rx="2.5" fill="url(#screeng)" stroke="#4a72a8" stroke-width="1.2"/>
<rect x="598.6" y="259.5" width="33.2" height="66.3" rx="1.8" fill="url(#towerg)" stroke="#4a72a8" stroke-width="1.2"/>
<rect x="602.3" y="266.2" width="25.5" height="2" fill="#4a72a8"/>
<rect x="602.4" y="276.4" width="25.3" height="16.2" fill="url(#metalg)" stroke="#4a72a8" stroke-width="1"/>
<line x1="602.4" y1="282" x2="627.7" y2="282" stroke="#4a72a8" stroke-width="1"/>
<line x1="602.4" y1="287" x2="627.7" y2="287" stroke="#4a72a8" stroke-width="1"/>
<path d="M647.6,290.8 H704.8 Q706.6,290.8 706.6,292.6 V323.6 Q706.6,325.4 704.8,325.4 H680.6 L679.6,323.2 H661.8 L660.8,325.4 H647.6 Q645.8,325.4 645.8,323.6 V292.6 Q645.8,290.8 647.6,290.8 Z" fill="#d9dadd" stroke="#4a72a8" stroke-width="1.2"/>
<rect x="649" y="291.6" width="44.4" height="5.2" fill="#c2d6f0"/>
<rect x="649" y="297" width="44.4" height="18" fill="url(#papg)"/>
<line x1="648.8" y1="291" x2="648.8" y2="325.3" stroke="#4a72a8" stroke-width="1"/>
<line x1="693.4" y1="291" x2="693.4" y2="325.3" stroke="#4a72a8" stroke-width="1.1"/>
<line x1="652.8" y1="294" x2="689.8" y2="294" stroke="#4a72a8" stroke-width="1.8"/>
<line x1="648.8" y1="297.2" x2="693.4" y2="297.2" stroke="#4a72a8" stroke-width="0.9"/>
<line x1="648.8" y1="315" x2="693.4" y2="315" stroke="#4a72a8" stroke-width="1.2"/>
<path d="M648.8,317.2 Q649.5,320.4 652.5,320.4 H693.4" stroke="#4a72a8" stroke-width="1" fill="none"/>
<path d="M696,300.7 H704 M700,297.6 V304" stroke="#4a72a8" stroke-width="1.4" fill="none"/>
<circle cx="696.3" cy="300.7" r="1.35" fill="#4a72a8"/>
<circle cx="703.7" cy="300.7" r="1.35" fill="#4a72a8"/>
<circle cx="700" cy="297.9" r="1.35" fill="#4a72a8"/>
<circle cx="700" cy="303.8" r="1.35" fill="#4a72a8"/>
</g>
<path d="M168,449.5 V690" fill="none" stroke="#e27955" stroke-width="1.6" stroke-dasharray="6.3 4.0"/>
<path d="M193.9,449.5 V497.5 Q193.9,505.5 201.9,505.5 H518.3 Q526.3,505.5 526.3,513.5 V690" fill="none" stroke="#e27955" stroke-width="1.6" stroke-dasharray="6.3 4.0"/>
<path d="M218.1,449.5 V472.3 Q218.1,480.3 226.1,480.3 H1236 Q1244,480.3 1244,488.3 V690" fill="none" stroke="#e27955" stroke-width="1.6" stroke-dasharray="6.3 4.0"/>
<rect x="125.5" y="565.6" width="99.6" height="22.8" rx="1.6" fill="#ffffff" stroke="#4a72a8" stroke-width="1.3"/>
<rect x="482.4" y="565.6" width="99.6" height="22.8" rx="1.6" fill="#ffffff" stroke="#4a72a8" stroke-width="1.3"/>
<rect x="1199.8" y="565.6" width="99.6" height="22.8" rx="1.6" fill="#ffffff" stroke="#4a72a8" stroke-width="1.3"/>
<g transform="translate(0,0)">
<rect x="124.2" y="694.3" width="65.3" height="64.8" rx="1.5" fill="none" stroke="#4a72a8" stroke-width="1.3"/>
<rect x="137.6" y="708.6" width="16.6" height="36" rx="0.8" fill="#cbccd2" stroke="#4a72a8" stroke-width="1.1"/>
<line x1="137.6" y1="713" x2="154.2" y2="713" stroke="#4a72a8" stroke-width="1"/>
<path d="M140.5,717.8 h5.5 M140.5,719.5 h2.5 M145,734.5 h6.5 M145,736.8 h6.5" stroke="#4a72a8" stroke-width="0.7"/>
<rect x="140.8" y="741.4" width="11.5" height="3.2" fill="#e0e1e5" stroke="#4a72a8" stroke-width="0.8"/>
<rect x="166.8" y="704.8" width="4.1" height="4" fill="#cfd2da" stroke="#4a72a8" stroke-width="0.8"/>
<rect x="165.4" y="744.5" width="7.2" height="4.2" fill="#cfd2da" stroke="#4a72a8" stroke-width="0.8"/>
<rect x="162.3" y="708.6" width="13.2" height="36" rx="0.6" fill="#c5d3ec" stroke="#4a72a8" stroke-width="1"/>
<rect x="165.4" y="709" width="7.2" height="39.5" fill="#cdd0d8" stroke="#4a72a8" stroke-width="0.9"/>
<path d="M167.5,712 h3 M167.5,714 h3 M167.5,739 h2.5 M167.5,741 h2.5" stroke="#4a72a8" stroke-width="0.7"/>
<path d="M168.2,759.2 V857.3 Q168.2,864.3 175.2,864.3 H221.5" fill="none" stroke="#4a72a8" stroke-width="1.2"/>
</g>
<g transform="translate(357.7,0)">
<rect x="124.2" y="694.3" width="65.3" height="64.8" rx="1.5" fill="none" stroke="#4a72a8" stroke-width="1.3"/>
<rect x="137.6" y="708.6" width="16.6" height="36" rx="0.8" fill="#cbccd2" stroke="#4a72a8" stroke-width="1.1"/>
<line x1="137.6" y1="713" x2="154.2" y2="713" stroke="#4a72a8" stroke-width="1"/>
<path d="M140.5,717.8 h5.5 M140.5,719.5 h2.5 M145,734.5 h6.5 M145,736.8 h6.5" stroke="#4a72a8" stroke-width="0.7"/>
<rect x="140.8" y="741.4" width="11.5" height="3.2" fill="#e0e1e5" stroke="#4a72a8" stroke-width="0.8"/>
<rect x="166.8" y="704.8" width="4.1" height="4" fill="#cfd2da" stroke="#4a72a8" stroke-width="0.8"/>
<rect x="165.4" y="744.5" width="7.2" height="4.2" fill="#cfd2da" stroke="#4a72a8" stroke-width="0.8"/>
<rect x="162.3" y="708.6" width="13.2" height="36" rx="0.6" fill="#c5d3ec" stroke="#4a72a8" stroke-width="1"/>
<rect x="165.4" y="709" width="7.2" height="39.5" fill="#cdd0d8" stroke="#4a72a8" stroke-width="0.9"/>
<path d="M167.5,712 h3 M167.5,714 h3 M167.5,739 h2.5 M167.5,741 h2.5" stroke="#4a72a8" stroke-width="0.7"/>
<path d="M168.2,759.2 V857.3 Q168.2,864.3 175.2,864.3 H243.8" fill="none" stroke="#4a72a8" stroke-width="1.2"/>
</g>
<g transform="translate(1075.6,0)">
<rect x="124.2" y="694.3" width="65.3" height="64.8" rx="1.5" fill="none" stroke="#4a72a8" stroke-width="1.3"/>
<rect x="137.6" y="708.6" width="16.6" height="36" rx="0.8" fill="#cbccd2" stroke="#4a72a8" stroke-width="1.1"/>
<line x1="137.6" y1="713" x2="154.2" y2="713" stroke="#4a72a8" stroke-width="1"/>
<path d="M140.5,717.8 h5.5 M140.5,719.5 h2.5 M145,734.5 h6.5 M145,736.8 h6.5" stroke="#4a72a8" stroke-width="0.7"/>
<rect x="140.8" y="741.4" width="11.5" height="3.2" fill="#e0e1e5" stroke="#4a72a8" stroke-width="0.8"/>
<rect x="166.8" y="704.8" width="4.1" height="4" fill="#cfd2da" stroke="#4a72a8" stroke-width="0.8"/>
<rect x="165.4" y="744.5" width="7.2" height="4.2" fill="#cfd2da" stroke="#4a72a8" stroke-width="0.8"/>
<rect x="162.3" y="708.6" width="13.2" height="36" rx="0.6" fill="#c5d3ec" stroke="#4a72a8" stroke-width="1"/>
<rect x="165.4" y="709" width="7.2" height="39.5" fill="#cdd0d8" stroke="#4a72a8" stroke-width="0.9"/>
<path d="M167.5,712 h3 M167.5,714 h3 M167.5,739 h2.5 M167.5,741 h2.5" stroke="#4a72a8" stroke-width="0.7"/>
<path d="M168.2,759.2 V857.3 Q168.2,864.3 175.2,864.3 H197.4000000000001" fill="none" stroke="#4a72a8" stroke-width="1.2"/>
</g>
<g transform="translate(0.0,0)">
<path d="M211.6,884.6 Q211.6,889 215,889 H346 Q349.4,889 349.4,884.6 Z" fill="#d5d6da" stroke="#4a72a8" stroke-width="1.1"/>
<path d="M224.6,858.6 H336.6 L349.4,879.5 Q350.8,884.8 346,884.8 H215 Q210.2,884.8 211.6,879.5 Z" fill="#dcdcdf" stroke="#4a72a8" stroke-width="1.2" stroke-linejoin="round"/>
<path d="M229.6,862.4 H330.8 L336.4,873.9 H223.9 Z" fill="url(#kbg)" stroke="#4a72a8" stroke-width="1.1"/>
<path d="M269.6,876.9 H290.8 L291.4,882.2 H269 Z" fill="#b9bcc6" stroke="#4a72a8" stroke-width="1"/>
<path d="M224.6,858.6 V787.5 Q224.6,785.5 226.6,785.5 H334.6 Q336.6,785.5 336.6,787.5 V858.6 Z" fill="url(#screeng)" stroke="#4a72a8" stroke-width="1.3"/>
</g>
<g transform="translate(380.29999999999995,0)">
<path d="M211.6,884.6 Q211.6,889 215,889 H346 Q349.4,889 349.4,884.6 Z" fill="#d5d6da" stroke="#4a72a8" stroke-width="1.1"/>
<path d="M224.6,858.6 H336.6 L349.4,879.5 Q350.8,884.8 346,884.8 H215 Q210.2,884.8 211.6,879.5 Z" fill="#dcdcdf" stroke="#4a72a8" stroke-width="1.2" stroke-linejoin="round"/>
<path d="M229.6,862.4 H330.8 L336.4,873.9 H223.9 Z" fill="url(#kbg)" stroke="#4a72a8" stroke-width="1.1"/>
<path d="M269.6,876.9 H290.8 L291.4,882.2 H269 Z" fill="#b9bcc6" stroke="#4a72a8" stroke-width="1"/>
<path d="M224.6,858.6 V787.5 Q224.6,785.5 226.6,785.5 H334.6 Q336.6,785.5 336.6,787.5 V858.6 Z" fill="url(#screeng)" stroke="#4a72a8" stroke-width="1.3"/>
</g>
<g transform="translate(1051.6,0)">
<path d="M211.6,884.6 Q211.6,889 215,889 H346 Q349.4,889 349.4,884.6 Z" fill="#d5d6da" stroke="#4a72a8" stroke-width="1.1"/>
<path d="M224.6,858.6 H336.6 L349.4,879.5 Q350.8,884.8 346,884.8 H215 Q210.2,884.8 211.6,879.5 Z" fill="#dcdcdf" stroke="#4a72a8" stroke-width="1.2" stroke-linejoin="round"/>
<path d="M229.6,862.4 H330.8 L336.4,873.9 H223.9 Z" fill="url(#kbg)" stroke="#4a72a8" stroke-width="1.1"/>
<path d="M269.6,876.9 H290.8 L291.4,882.2 H269 Z" fill="#b9bcc6" stroke="#4a72a8" stroke-width="1"/>
<path d="M224.6,858.6 V787.5 Q224.6,785.5 226.6,785.5 H334.6 Q336.6,785.5 336.6,787.5 V858.6 Z" fill="url(#screeng)" stroke="#4a72a8" stroke-width="1.3"/>
</g>
<g fill="#1a5994">
<text x="50.50" y="59.70" font-size="23" fill="#1b5d98" stroke="#1b5d98" stroke-width="0.55" textLength="109.24" lengthAdjust="spacingAndGlyphs">Diagramm</text>
<text x="193.10" y="135.50" font-size="23.5" fill="#1b5d98" stroke="#1b5d98" stroke-width="0.55" textLength="157.90" lengthAdjust="spacingAndGlyphs">Auxiliary Room</text>
<text x="522.80" y="135.50" font-size="23.5" fill="#1b5d98" stroke="#1b5d98" stroke-width="0.55" textLength="192.93" lengthAdjust="spacingAndGlyphs">Engineering Room</text>
<text x="846.80" y="135.50" font-size="23.5" fill="#1b5d98" stroke="#1b5d98" stroke-width="0.55" textLength="242.42" lengthAdjust="spacingAndGlyphs">Maintenance workshop</text>
<text x="1231.30" y="135.70" font-size="23.5" fill="#1b5d98" stroke="#1b5d98" stroke-width="0.55" textLength="170.24" lengthAdjust="spacingAndGlyphs">Plant laboratory</text>
<text x="1382.10" y="176.40" font-size="23.5" stroke="#e1e5f4" stroke-width="0.3" textLength="88.45" lengthAdjust="spacingAndGlyphs">Ethernet</text>
<text x="206.90" y="196.90" font-size="23.5" stroke="#e3e7f5" stroke-width="0.3" textLength="43.59" lengthAdjust="spacingAndGlyphs">DCS</text>
<text x="139.00" y="269.70" font-size="23.5" stroke="#e9ecf7" stroke-width="0.3" textLength="44.00" lengthAdjust="spacingAndGlyphs">OPC</text>
<text x="138.00" y="297.80" font-size="23.5" stroke="#eceef8" stroke-width="0.3" textLength="147.25" lengthAdjust="spacingAndGlyphs">MODBUS/TCP</text>
<text x="138.00" y="325.80" font-size="23.5" stroke="#eef0f9" stroke-width="0.3" textLength="147.65" lengthAdjust="spacingAndGlyphs">MODBUS/RTU</text>
<text x="349.60" y="294.50" font-size="23.5" stroke="#ebeef8" stroke-width="0.3" textLength="90.02" lengthAdjust="spacingAndGlyphs">AMADAS</text>
<text x="370.80" y="322.20" font-size="23.5" stroke="#eef0f9" stroke-width="0.3" textLength="68.98" lengthAdjust="spacingAndGlyphs">Server</text>
<text x="308.70" y="404.00" font-size="23.5" stroke="#f5f6fc" stroke-width="0.3" textLength="71.15" lengthAdjust="spacingAndGlyphs">Switch</text>
<text x="149.00" y="445.60" font-size="23.5" stroke="#ffffff" stroke-width="0.3" textLength="72.04" lengthAdjust="spacingAndGlyphs">FO P/P</text>
<text x="242.00" y="446.30" font-size="23.5" stroke="#f8f9fd" stroke-width="0.3" textLength="163.02" lengthAdjust="spacingAndGlyphs">Multiple FO P/P</text>
<text x="570.20" y="364.60" font-size="23.5" stroke="#f2f3fb" stroke-width="0.3" textLength="90.76" lengthAdjust="spacingAndGlyphs">AMADAS</text>
<text x="487.50" y="392.90" font-size="23.5" stroke="#f4f5fb" stroke-width="0.3" textLength="255.95" lengthAdjust="spacingAndGlyphs">Engineering Workstation</text>
<text x="928.90" y="364.60" font-size="23.5" stroke="#f2f3fb" stroke-width="0.3" textLength="90.95" lengthAdjust="spacingAndGlyphs">AMADAS</text>
<text x="843.30" y="392.90" font-size="23.5" stroke="#f4f5fb" stroke-width="0.3" textLength="263.02" lengthAdjust="spacingAndGlyphs">Maintenance Workstation</text>
<text x="1253.40" y="364.40" font-size="23.5" stroke="#f2f3fb" stroke-width="0.3" textLength="152.64" lengthAdjust="spacingAndGlyphs">LIMS/AMADAS</text>
<text x="1208.50" y="392.80" font-size="23.5" stroke="#f4f5fb" stroke-width="0.3" textLength="242.65" lengthAdjust="spacingAndGlyphs">Laboratory Workstation</text>
<text x="141.30" y="584.80" font-size="23.5" stroke="#ffffff" stroke-width="0.3" textLength="71.53" lengthAdjust="spacingAndGlyphs">FO P/P</text>
<text x="496.20" y="584.80" font-size="23.5" stroke="#ffffff" stroke-width="0.3" textLength="71.07" lengthAdjust="spacingAndGlyphs">FO P/P</text>
<text x="1211.40" y="584.80" font-size="23.5" stroke="#ffffff" stroke-width="0.3" textLength="71.99" lengthAdjust="spacingAndGlyphs">FO P/P</text>
<text x="237.30" y="918.60" font-size="23.5" stroke="#dfe4f5" stroke-width="0.3" textLength="90.85" lengthAdjust="spacingAndGlyphs">AMADAS</text>
<text x="181.30" y="946.60" font-size="23.5" stroke="#dde2f4" stroke-width="0.3" textLength="203.34" lengthAdjust="spacingAndGlyphs">Workstation/Laptop</text>
<text x="613.50" y="918.80" font-size="23.5" stroke="#dfe4f5" stroke-width="0.3" textLength="89.25" lengthAdjust="spacingAndGlyphs">AMADAS</text>
<text x="557.10" y="946.60" font-size="23.5" stroke="#dde2f4" stroke-width="0.3" textLength="202.72" lengthAdjust="spacingAndGlyphs">Workstation/Laptop</text>
<text x="1287.50" y="918.80" font-size="23.5" stroke="#dfe4f5" stroke-width="0.3" textLength="89.36" lengthAdjust="spacingAndGlyphs">AMADAS</text>
<text x="1231.60" y="946.60" font-size="23.5" stroke="#dde2f4" stroke-width="0.3" textLength="201.61" lengthAdjust="spacingAndGlyphs">Workstation/Laptop</text>
<text transform="translate(80.00,304.00) rotate(-90)" x="0" y="0" font-size="23.5" fill="#1b5b97" stroke="#1b5b97" stroke-width="0.5" textLength="42.23" lengthAdjust="spacingAndGlyphs">CCR</text>
<text transform="translate(79.40,521.30) rotate(-90)" x="0" y="0" font-size="23.5" fill="#1b5b97" stroke="#1b5b97" stroke-width="0.5" textLength="52.63" lengthAdjust="spacingAndGlyphs">Field</text>
<text transform="translate(80.20,614.10) rotate(-90)" x="0" y="0" font-size="23.5" fill="#1b5b97" stroke="#1b5b97" stroke-width="0.5" textLength="41.42" lengthAdjust="spacingAndGlyphs">FAR</text>
<rect x="72.23" y="558.60" width="2.5" height="6.80" fill="#1b5b97"/>
<text transform="translate(80.20,549.40) rotate(-90)" x="0" y="0" font-size="23.5" fill="#1b5b97" stroke="#1b5b97" stroke-width="0.5" textLength="7.86" lengthAdjust="spacingAndGlyphs">1</text>
<text transform="translate(80.30,821.20) rotate(-90)" x="0" y="0" font-size="23.5" fill="#1b5b97" stroke="#1b5b97" stroke-width="0.5" textLength="28.37" lengthAdjust="spacingAndGlyphs">AH</text>
<rect x="72.25" y="777.60" width="2.5" height="6.10" fill="#1b5b97"/>
<text transform="translate(80.30,768.80) rotate(-90)" x="0" y="0" font-size="23.5" fill="#1b5b97" stroke="#1b5b97" stroke-width="0.5" textLength="7.39" lengthAdjust="spacingAndGlyphs">1</text>
<text transform="translate(438.80,614.10) rotate(-90)" x="0" y="0" font-size="23.5" fill="#1b5b97" stroke="#1b5b97" stroke-width="0.5" textLength="41.42" lengthAdjust="spacingAndGlyphs">FAR</text>
<rect x="430.67" y="559.00" width="2.5" height="6.80" fill="#1b5b97"/>
<text transform="translate(438.80,550.20) rotate(-90)" x="0" y="0" font-size="23.5" fill="#1b5b97" stroke="#1b5b97" stroke-width="0.5" textLength="10.42" lengthAdjust="spacingAndGlyphs">2</text>
<text transform="translate(438.60,821.20) rotate(-90)" x="0" y="0" font-size="23.5" fill="#1b5b97" stroke="#1b5b97" stroke-width="0.5" textLength="28.37" lengthAdjust="spacingAndGlyphs">AH</text>
<rect x="430.75" y="777.60" width="2.5" height="6.60" fill="#1b5b97"/>
<text transform="translate(438.60,769.30) rotate(-90)" x="0" y="0" font-size="23.5" fill="#1b5b97" stroke="#1b5b97" stroke-width="0.5" textLength="10.60" lengthAdjust="spacingAndGlyphs">2</text>
<text transform="translate(1156.80,614.10) rotate(-90)" x="0" y="0" font-size="23.5" fill="#1b5b97" stroke="#1b5b97" stroke-width="0.5" textLength="41.42" lengthAdjust="spacingAndGlyphs">FAR</text>
<rect x="1148.83" y="559.00" width="2.5" height="6.80" fill="#1b5b97"/>
<text transform="translate(1156.80,551.80) rotate(-90)" x="0" y="0" font-size="23.5" fill="#1b5b97" stroke="#1b5b97" stroke-width="0.5" textLength="13.19" lengthAdjust="spacingAndGlyphs">n</text>
<text transform="translate(1156.90,821.70) rotate(-90)" x="0" y="0" font-size="23.5" fill="#1b5b97" stroke="#1b5b97" stroke-width="0.5" textLength="28.52" lengthAdjust="spacingAndGlyphs">AH</text>
<rect x="1148.97" y="779.00" width="2.5" height="6.00" fill="#1b5b97"/>
<text transform="translate(1156.90,770.30) rotate(-90)" x="0" y="0" font-size="23.5" fill="#1b5b97" stroke="#1b5b97" stroke-width="0.5" textLength="12.39" lengthAdjust="spacingAndGlyphs">n</text>
</g>
</svg>
</body></html>
